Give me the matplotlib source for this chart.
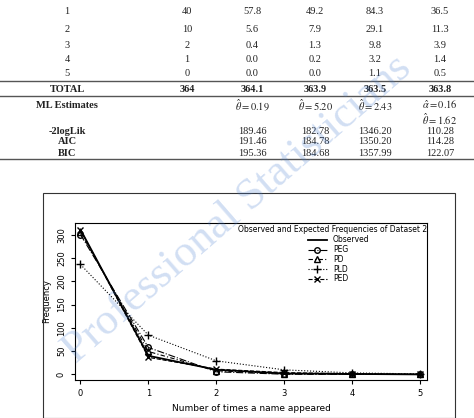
import matplotlib.pyplot as plt

plt.rcParams["mathtext.fontset"] = "stix"

# table rows (top part of the page)
row_labels = ["1", "2", "3", "4", "5"]
observed_tab = ["40", "10", "2", "1", "0"]
peg_tab = ["57.8", "5.6", "0.4", "0.0", "0.0"]
pd_tab = ["49.2", "7.9", "1.3", "0.2", "0.0"]
pld_tab = ["84.3", "29.1", "9.8", "3.2", "1.1"]
ped_tab = ["36.5", "11.3", "3.9", "1.4", "0.5"]
totals = ["364", "364.1", "363.9", "363.5", "363.8"]
estimates = [r"$\hat{\theta}=0.19$", r"$\hat{\theta}=5.20$", r"$\hat{\theta}=2.43$", r"$\hat{\alpha}=0.16$"]
loglik = ["189.46", "182.78", "1346.20", "110.28"]
aic = ["191.46", "184.78", "1350.20", "114.28"]
bic = ["195.36", "184.68", "1357.99", "122.07"]

# chart data
x = [0, 1, 2, 3, 4, 5]
observed = [311, 40, 10, 2, 1, 0]
peg = [300.3, 57.8, 5.6, 0.4, 0.0, 0.0]
pdist = [305.3, 49.2, 7.9, 1.3, 0.2, 0.0]
pld = [236.0, 84.3, 29.1, 9.8, 3.2, 1.1]
ped = [310.7, 36.5, 11.3, 3.9, 1.4, 0.5]

W, H = 474, 418
fig = plt.figure(figsize=(W / 100, H / 100), dpi=100)


def put(px, py, s, **kw):
    fig.text(px / W, 1 - py / H, s, ha="center", va="center",
             family="Liberation Serif", fontsize=7.5, color="#222222", **kw)


def hline(py, lw=1.0):
    fig.add_artist(plt.Line2D([0, 1], [1 - py / H] * 2, color="#555555", lw=lw))


cols = [187, 252, 315, 375, 440]
rows_y = [12, 29, 45, 60, 74]
for i, lab in enumerate(row_labels):
    put(67, rows_y[i], lab)
    for c, col in zip(cols, [observed_tab, peg_tab, pd_tab, pld_tab, ped_tab]):
        put(c, rows_y[i], col[i])
hline(81)
put(67, 89, "TOTAL", weight="bold")
for c, t in zip(cols, totals):
    put(c, 89, t, weight="bold")
hline(96)
put(67, 105, "ML Estimates", weight="bold")
for c, t in zip(cols[1:], estimates):
    put(c, 105, t)
put(440, 119, r"$\hat{\theta}=1.62$")
for py, lab, vals in [(131, "-2logLik", loglik), (142, "AIC", aic), (153, "BIC", bic)]:
    put(67, py, lab, weight="bold")
    for c, v in zip(cols[1:], vals):
        put(c, py, v)
hline(159)

# outer frame of the plot image
fig.add_artist(plt.Rectangle((43 / W, 0), 412 / W, 1 - 193 / H, fill=False,
                             lw=0.8, color="#333333"))

ax = fig.add_axes([75 / W, 1 - 380 / H, 352 / W, 157 / H])
ax.plot(x, observed, color="black", lw=1.3, label="Observed")
ax.plot(x, peg, color="black", lw=0.8, ls="-.", marker="o", ms=4, mfc="none", label="PEG")
ax.plot(x, pdist, color="black", lw=0.8, ls=(0, (4, 2, 1, 2)), marker="^", ms=4, mfc="none", label="PD")
ax.plot(x, pld, color="black", lw=0.8, ls=":", marker="+", ms=6, label="PLD")
ax.plot(x, ped, color="black", lw=0.8, ls="--", marker="x", ms=4, label="PED")
ax.set_xlim(-0.08, 5.1)
ax.set_ylim(-12, 325)
ax.set_xticks(x)
ax.set_yticks([0, 50, 100, 150, 200, 250, 300])
ax.tick_params(labelsize=6, length=3)
for t in ax.get_yticklabels():
    t.set_rotation(90)
    t.set_va("center")
ax.set_ylabel("Frequency", fontsize=6)
ax.set_xlabel("Number of times a name appeared", fontsize=6.5)
ax.legend(loc="upper right", fontsize=5.5, frameon=False, handlelength=2.5,
          labelspacing=0.1, borderaxespad=0.2, bbox_to_anchor=(0.85, 0.95))
ax.text(1.0, 0.985, "Observed and Expected Frequencies of Dataset 2", transform=ax.transAxes,
        ha="right", va="top", fontsize=5.5)

# watermark
fig.text(0.5, 0.5, "Professional Statisticians", rotation=41, fontsize=32,
         family="Liberation Serif", color="#4a7fd0", alpha=0.25, ha="center", va="center")

fig.savefig("out.png", dpi=100)
